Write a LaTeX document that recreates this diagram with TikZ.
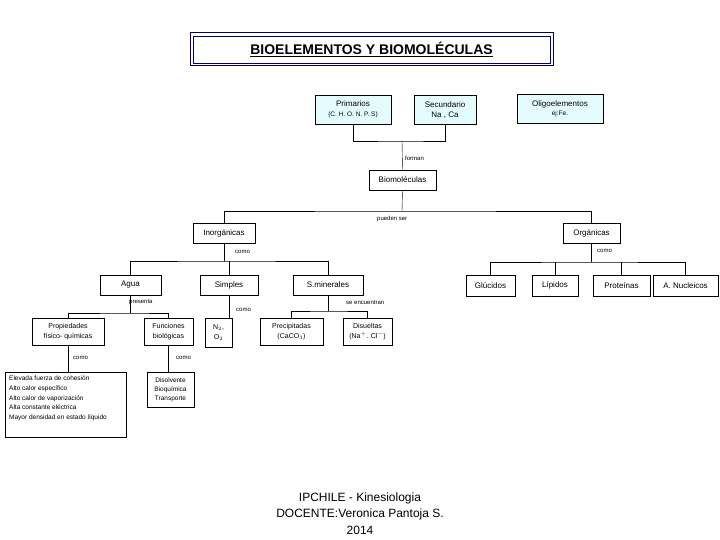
\documentclass[tikz,border=0pt]{standalone}
\usepackage{fontspec}
\setmainfont{Liberation Sans}
\begin{document}
\begin{tikzpicture}[x=1pt,y=-1pt,
 bx/.style={draw,thin,inner sep=2pt,align=center,font=\fontsize{8}{9.5}\selectfont},
 blu/.style={bx,fill=blue!12!cyan!10,minimum height=29pt},
 lab/.style={font=\fontsize{6}{6}\selectfont,anchor=west,inner sep=1pt},
 ln/.style={thin}]
\useasboundingbox (0,0) rectangle (720,540);
\draw[draw=blue!40!black,line width=1pt] (190,33) rectangle (553,66);
\draw[draw=blue!40!black,line width=0.6pt] (193,36) rectangle (550,63);
\node[font=\bfseries\fontsize{14}{16}\selectfont] (t) at (371.5,49.5) {\underline{BIOELEMENTOS Y BIOMOLÉCULAS}};
\node[blu,minimum width=76pt] (pri) at (353,109.5) {Primarios\\{\fontsize{6.5}{8}\selectfont (C. H. O. N. P. S)}};
\node[blu,minimum width=62pt] (sec) at (445,110) {Secundario\\Na , Ca};
\node[blu,minimum width=86pt] (oli) at (560,109) {Oligoelementos\\{\fontsize{6.5}{8}\selectfont ej:Fe.}};
\node[bx,minimum width=67pt,minimum height=20pt] (bio) at (402.5,180) {Biomoléculas};
\node[bx,minimum width=62pt,minimum height=20pt] (ino) at (224,233) {Inorgánicas};
\node[bx,minimum width=57pt,minimum height=20pt] (org) at (591.5,233) {Orgánicas};
\node[bx,minimum width=61pt,minimum height=20pt] (agua) at (130.5,285) {Agua};
\node[bx,minimum width=58pt,minimum height=20pt] (sim) at (229,285) {Simples};
\node[bx,minimum width=70pt,minimum height=20pt] (smin) at (328,285) {S.minerales};
\node[bx,minimum width=49pt,minimum height=21pt] (glu) at (490.5,285.5) {Glúcidos};
\node[bx,minimum width=46pt,minimum height=21pt] (lip) at (555,285.5) {Lípidos};
\node[bx,minimum width=57pt,minimum height=21pt] (pro) at (621.5,285.5) {Proteínas};
\node[bx,minimum width=65pt,minimum height=21pt] (nuc) at (685.5,285.5) {A. Nucleicos};
\tikzset{sm/.style={bx,font=\fontsize{7}{10}\selectfont}}
\node[sm,minimum width=72pt,minimum height=27pt] (prop) at (68,331.5) {Propiedades\\físico- químicas};
\node[sm,minimum width=49pt,minimum height=27pt] (fun) at (168.5,331.5) {Funciones\\biológicas};
\node[sm,minimum width=27pt,minimum height=29pt] (n2) at (218.5,332.5) {N$_2$,\\O$_2$};
\node[sm,minimum width=63pt,minimum height=27pt] (prec) at (291.5,331.5) {Precipitadas\\(CaCO$_3$)};
\node[sm,minimum width=49pt,minimum height=27pt] (dis) at (367.5,331.5) {Disueltas\\(Na$^+$. Cl$^-$)};
\node[draw,thin,anchor=north west,minimum width=121pt,minimum height=65pt,inner sep=0pt] (list) at (5,372) {};
\node[anchor=north west,align=justify,inner sep=0pt,text width=108pt,font=\fontsize{6.5}{9.6}\selectfont] (listt) at (9,376) {Elevada fuerza de cohesión\\Alto calor específico\\Alto calor de vaporización\\Alta constante eléctrica\\Mayor densidad en estado líquido};
\node[draw,thin,anchor=north,minimum width=47pt,minimum height=35pt,align=center,inner sep=2pt,font=\fontsize{6.5}{9.3}\selectfont] (fl) at (170.5,372) {Disolvente\\Bioquímica\\Transporte};
% connectors
\draw[ln] (pri.south) |- (402,141) -| (sec.south);
\draw[ln] (402,141) -- (bio.north);
\node[lab] (l1) at (404,158) {forman};
\draw[ln] (bio.south) -- (402,211);
\draw[ln] (ino.north) |- (402,211) -| (org.north);
\node[lab] (l2) at (376,219) {pueden ser};
\draw[ln] (ino.south) -- (224,261);
\node[lab] (l3) at (234,252) {como};
\draw[ln] (agua.north) |- (224,261) -| (smin.north);
\draw[ln] (sim.north) -- (229,261);
\draw[ln] (org.south) -- (591.5,262);
\node[lab] (l4) at (596,251) {como};
\draw[ln] (glu.north) |- (591.5,262) -| (nuc.north);
\draw[ln] (lip.north) -- (555,262);
\draw[ln] (pro.north) -- (621.5,262);
\draw[ln] (agua.south) -- (130.5,313);
\node[lab] (l5) at (128,302) {presenta};
\draw[ln] (prop.north) |- (130.5,313) -| (fun.north);
\draw[ln] (sim.south) -- (n2.north -| sim.south);
\node[lab] (l6) at (235,310) {como};
\draw[ln] (smin.south) -- (328,311);
\node[lab] (l7) at (345,303) {se encuentran};
\draw[ln] (prec.north) |- (328,311) -| (dis.north);
\draw[ln] (prop.south) -- (list.north -| prop.south);
\node[lab] (l8) at (72,358) {como};
\draw[ln] (fun.south) -- (fl.north -| fun.south);
\node[lab] (l9) at (175,358) {como};
\node[font=\fontsize{12}{16.5}\selectfont,align=center,anchor=north] (foot) at (360,489) {IPCHILE - Kinesiologia\\DOCENTE:Veronica Pantoja S.\\2014};
\end{tikzpicture}
\end{document}
